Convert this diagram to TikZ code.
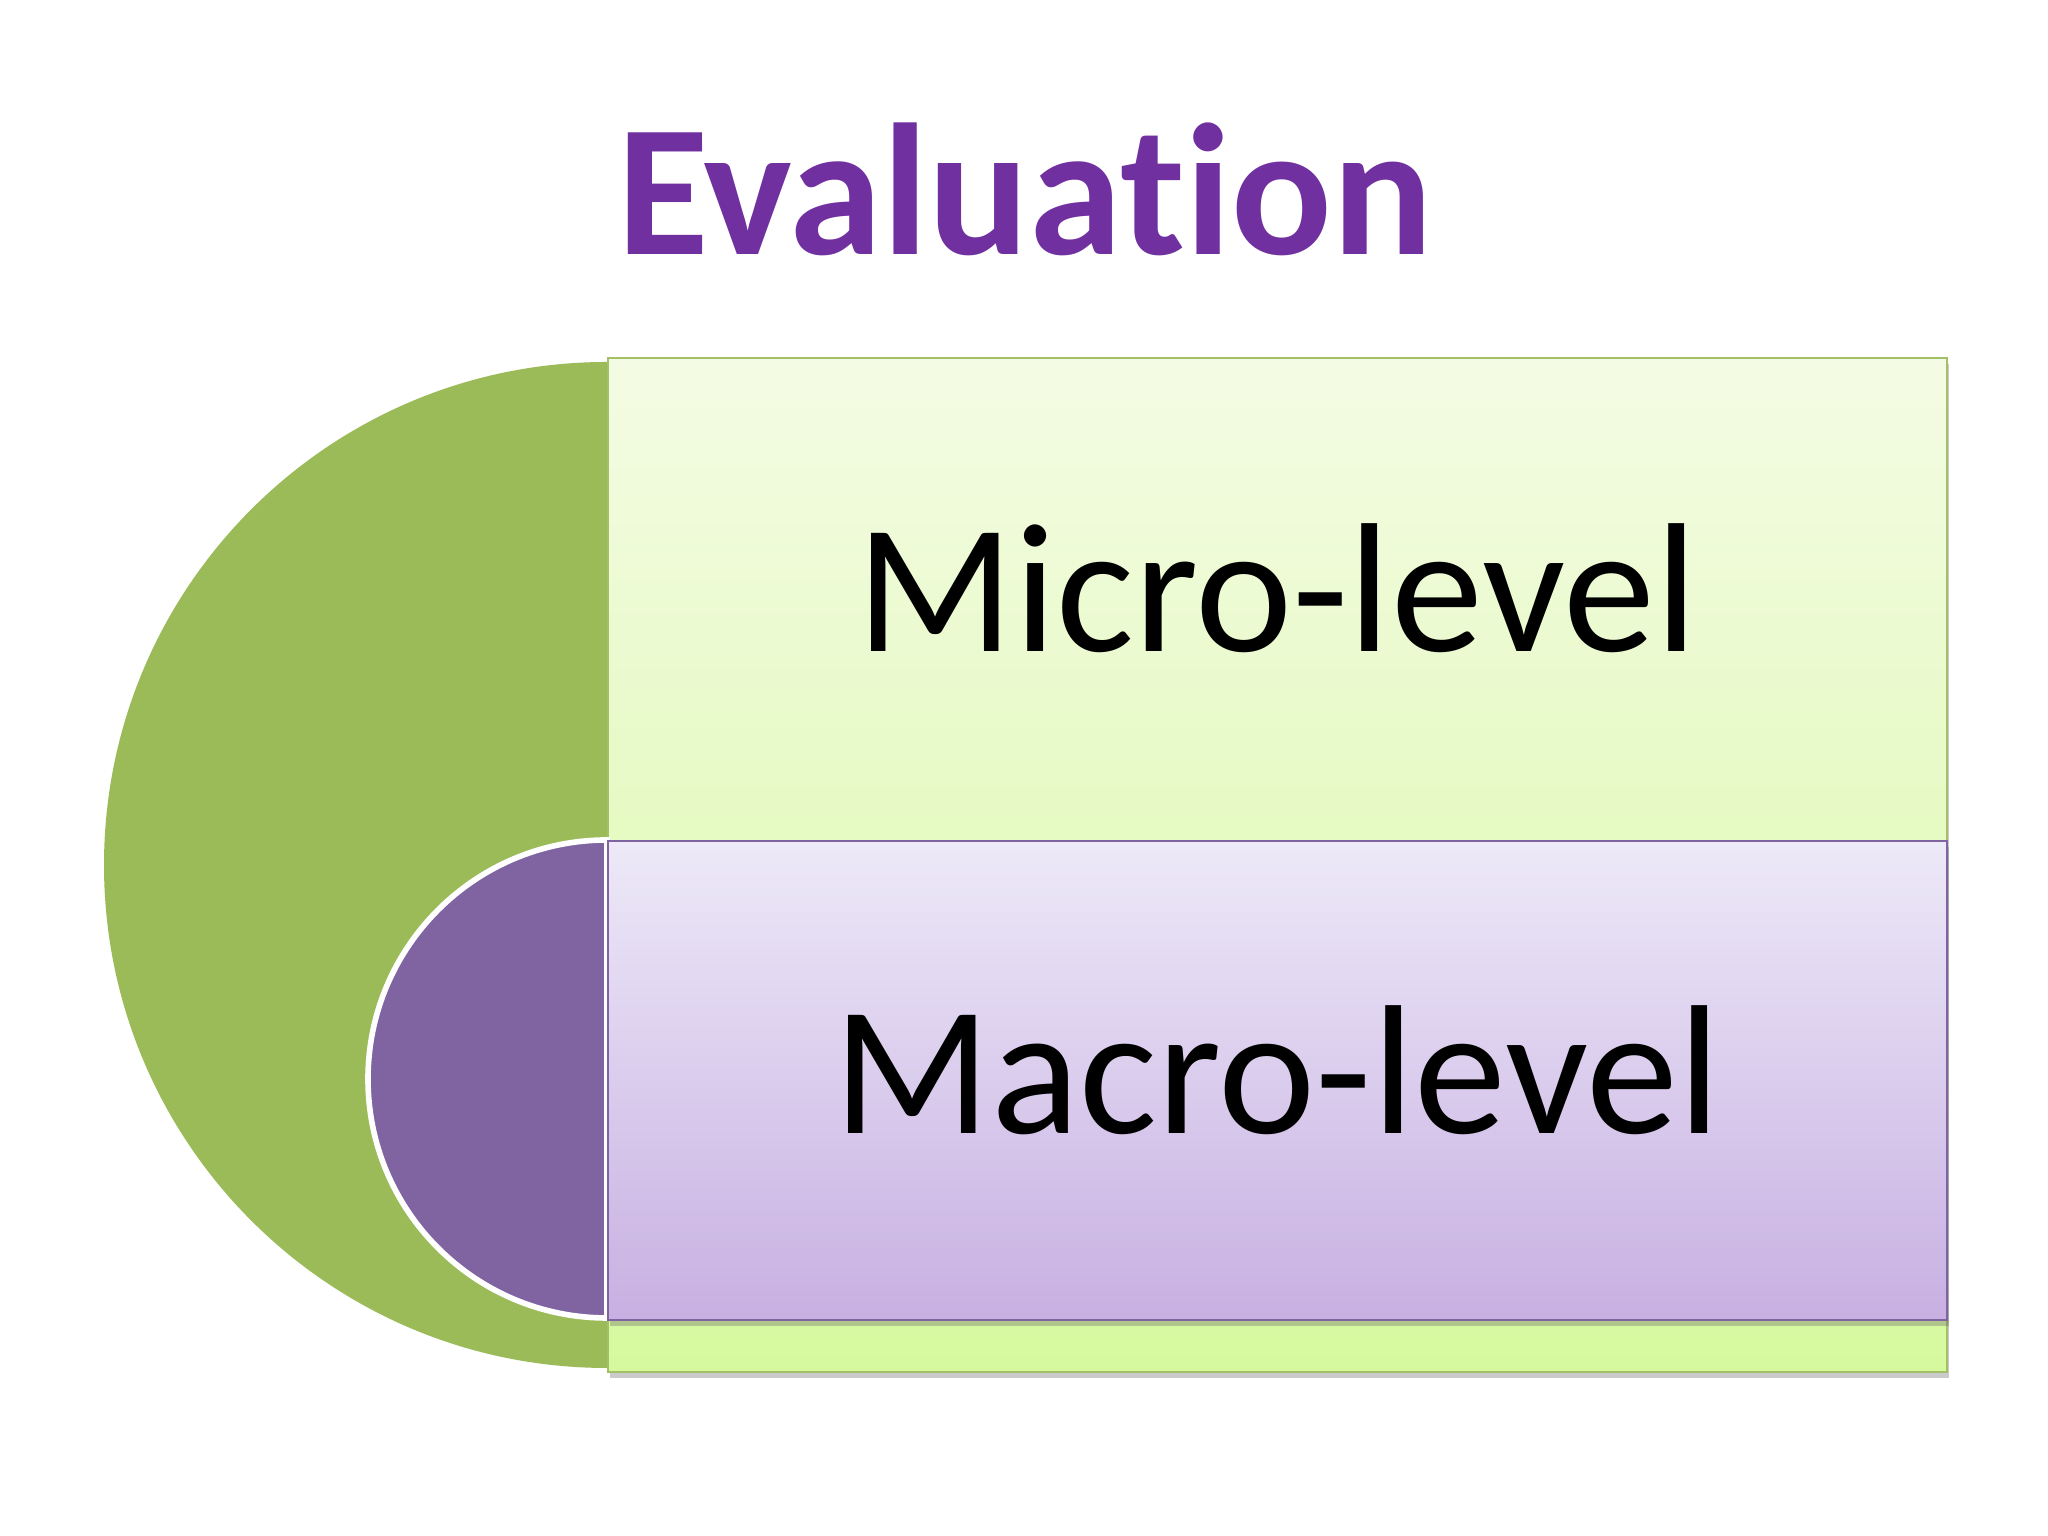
\documentclass[tikz,border=0pt]{standalone}
\usepackage{fontspec}
\setmainfont{Carlito}[Ligatures={NoCommon,NoDiscretionary}]
\usetikzlibrary{positioning,shadows}

\definecolor{leafgreen}{HTML}{9BBB59}
\definecolor{leafedge}{HTML}{A3C068}
\definecolor{leaftop}{HTML}{F4FBE4}
\definecolor{leafbot}{HTML}{D6F99E}
\definecolor{plum}{HTML}{8064A2}
\definecolor{plumtop}{HTML}{EDE9F8}
\definecolor{plumbot}{HTML}{C8B0E2}
\definecolor{titleviolet}{HTML}{7030A0}

\begin{document}
\begin{tikzpicture}[
        font=\fontsize{52.4}{62}\selectfont,
        levelbox/.style={draw, inner sep=0pt, minimum width=13.39cm, anchor=north west, line width=0.6pt},
        boxshadow/.style={drop shadow={shadow xshift=0.02cm, shadow yshift=-0.06cm, opacity=0.35, fill=black!60}},
        halfdisc/.style={line width=1.6pt},
        leveltext/.style={anchor=base, text=black}
    ]
        \useasboundingbox (0,0) rectangle (20.48,15.36);
        \coordinate (bigc) at (6.07,6.71);
        \coordinate (smallc) at (6.07,4.57);

        \node[anchor=base, text=titleviolet, font=\fontsize{53.4}{63}\selectfont\bfseries] (title) at (10.25,12.81) {Evaluation};

        \fill[leafgreen] (bigc) ++(0,5.03) arc[start angle=90, end angle=270, radius=5.03] -- cycle;
        \node[levelbox, boxshadow, minimum height=10.14cm, draw=leafedge, top color=leaftop, bottom color=leafbot] (micro) at (6.07,11.79) {};

        \filldraw[halfdisc, fill=plum, draw=white] (smallc) ++(0,2.39) arc[start angle=90, end angle=270, radius=2.39] -- cycle;
        \node[levelbox, boxshadow, minimum height=4.79cm, draw=plum, top color=plumtop, bottom color=plumbot] (macro) at (6.07,6.96) {};

        \node[leveltext] (microtxt) at (12.77,8.845) {Micro-level};
        \node[leveltext] (macrotxt) at (12.77,4.025) {Macro-level};
    \end{tikzpicture}
\end{document}
